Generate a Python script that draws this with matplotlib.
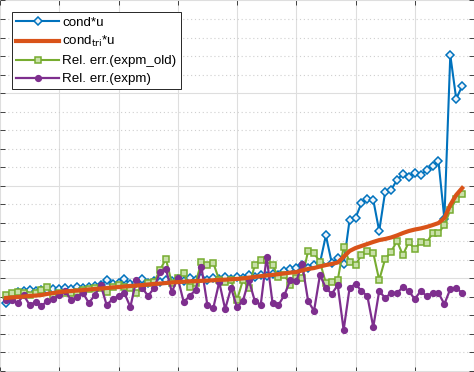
import numpy as np
import matplotlib
matplotlib.use('Agg')
import matplotlib.pyplot as plt
from matplotlib.ticker import FixedLocator, NullFormatter

# x positions (problem index) and log10 of the plotted quantities
idx = np.arange(1, 79)

cond_u_log = [-16.35, -16.03, -15.76, -15.70, -15.65, -15.70, -15.65, -15.65, -15.59, -15.59,
              -15.54, -15.59, -15.49, -15.54, -15.49, -15.43, -15.38, -15.11, -15.32, -15.27,
              -15.05, -15.32, -15.27, -15.05, -15.27, -15.16, -15.22, -15.11, -15.16, -15.05,
              -15.16, -15.00, -15.11, -15.00, -15.11, -15.00, -15.05, -14.95, -15.05, -14.95,
              -15.00, -14.84, -14.95, -14.84, -14.89, -14.78, -14.84, -14.62, -14.51, -14.46,
              -14.30, -14.46, -14.30, -14.19, -12.70, -14.19, -13.92, -14.24, -11.86, -11.76,
              -10.95, -10.73, -10.78, -12.46, -10.35, -10.24, -9.70, -9.38, -9.54, -9.32,
              -9.43, -9.16, -8.95, -8.68, -11.81, -2.95, -5.32, -4.62]

cond_tri_log = [-16.08, -16.05, -16.03, -16.00, -15.97, -15.95, -15.92, -15.86, -15.81, -15.76,
                -15.73, -15.70, -15.68, -15.65, -15.62, -15.59, -15.57, -15.54, -15.51, -15.49,
                -15.46, -15.43, -15.41, -15.38, -15.35, -15.32, -15.30, -15.27, -15.24, -15.22,
                -15.20, -15.18, -15.17, -15.15, -15.14, -15.12, -15.10, -15.09, -15.07, -15.05,
                -15.02, -14.98, -14.94, -14.90, -14.86, -14.83, -14.79, -14.75, -14.71, -14.68,
                -14.59, -14.51, -14.46, -14.38, -14.30, -14.24, -14.16, -13.86, -13.54, -13.38,
                -13.27, -13.16, -13.05, -12.95, -12.89, -12.81, -12.70, -12.57, -12.46, -12.38,
                -12.32, -12.24, -12.14, -12.03, -11.76, -11.05, -10.51, -10.14]

err_old_log = [-15.92, -15.81, -15.76, -15.81, -15.92, -15.81, -15.65, -15.49, -16.03, -15.81,
               -15.81, -15.81, -15.76, -15.65, -15.59, -15.54, -15.54, -15.76, -15.49, -15.38,
               -15.49, -15.54, -15.81, -15.54, -15.27, -15.22, -14.57, -13.97, -15.27, -15.00,
               -14.73, -15.49, -15.27, -14.14, -14.30, -14.19, -15.11, -15.22, -15.11, -16.19,
               -15.11, -15.54, -14.30, -14.03, -14.03, -14.30, -14.95, -14.84, -15.38, -15.00,
               -15.00, -13.54, -13.65, -14.14, -15.27, -15.22, -15.11, -13.32, -14.14, -14.30,
               -13.76, -13.54, -13.65, -15.11, -13.97, -13.59, -13.00, -13.76, -13.05, -13.43,
               -13.05, -13.11, -12.57, -12.57, -12.14, -11.32, -10.73, -10.46]

err_new_log = [-16.19, -16.19, -16.35, -15.92, -16.46, -16.30, -16.51, -16.24, -16.14, -15.92,
               -15.70, -16.19, -16.03, -15.81, -16.35, -15.92, -15.38, -16.46, -16.14, -15.97,
               -15.81, -16.57, -15.11, -15.54, -15.97, -15.54, -14.68, -14.51, -15.76, -15.00,
               -16.30, -15.97, -15.65, -14.41, -16.46, -16.62, -15.22, -16.68, -15.54, -16.57,
               -16.24, -15.11, -16.24, -16.46, -13.86, -16.35, -16.46, -15.92, -15.11, -15.16,
               -14.24, -16.24, -16.78, -14.84, -15.54, -15.86, -15.38, -17.81, -15.54, -15.32,
               -15.70, -15.97, -17.65, -15.70, -16.08, -15.81, -15.81, -15.49, -15.70, -16.14,
               -15.70, -15.97, -15.81, -15.81, -16.41, -15.59, -15.54, -15.81]

plt.rcParams['font.family'] = ['Liberation Sans', 'DejaVu Sans']

fig = plt.figure(figsize=(4.74, 3.72), dpi=100)
ax = fig.add_axes([0, 0, 1, 1])

ax.plot(idx, 10.0 ** np.array(cond_u_log), color='#0072BD', lw=1.5, marker='D',
        ms=4.3, mfc='#eef4fa', mec='#0072BD', mew=1.1, label='cond*u', zorder=3)
ax.plot(idx, 10.0 ** np.array(cond_tri_log), color='#D95319', lw=3.0,
        label=r'cond$_{\rm tri}$*u', zorder=4)
ax.plot(idx, 10.0 ** np.array(err_old_log), color='#77AC30', lw=1.5, marker='s',
        ms=4.2, mfc='#c8e0a8', mec='#77AC30', mew=1.1, label='Rel. err.(expm_old)', zorder=3)
ax.plot(idx, 10.0 ** np.array(err_new_log), color='#7E2F8E', lw=1.6, marker='o',
        ms=4.2, mfc='#7E2F8E', mec='#7E2F8E', label='Rel. err.(expm)', zorder=3)

ax.set_yscale('log')
ax.set_xlim(0, 80)
ax.set_ylim(10 ** -20.08, 10 ** 0.027)

ax.xaxis.set_major_locator(FixedLocator(np.arange(0, 81, 10)))
ax.yaxis.set_major_locator(FixedLocator(10.0 ** np.arange(-20, 1, 5)))
ax.yaxis.set_minor_locator(FixedLocator(10.0 ** np.arange(-20, 1, 1)))
ax.xaxis.set_major_formatter(NullFormatter())
ax.yaxis.set_major_formatter(NullFormatter())
ax.yaxis.set_minor_formatter(NullFormatter())

ax.grid(True, which='major', color='#dedede', lw=0.8, ls='-')
ax.grid(True, which='minor', axis='y', color='#cfcfcf', lw=0.8, ls=(0, (1, 2.5)))
ax.set_axisbelow(True)

ax.tick_params(which='both', direction='in', top=True, right=True, length=3.5,
               width=0.6, color='#262626')
for s in ax.spines.values():
    s.set_visible(False)

leg = ax.legend(loc='upper left', bbox_to_anchor=(12 / 474, 1 - 12 / 372), borderaxespad=0,
                fontsize=9.6, handlelength=3.2, handletextpad=0.25, labelspacing=0.42,
                borderpad=0.32, fancybox=False, framealpha=1, edgecolor='#262626')
leg.get_frame().set_linewidth(0.7)

fig.savefig('out.png', dpi=100)
